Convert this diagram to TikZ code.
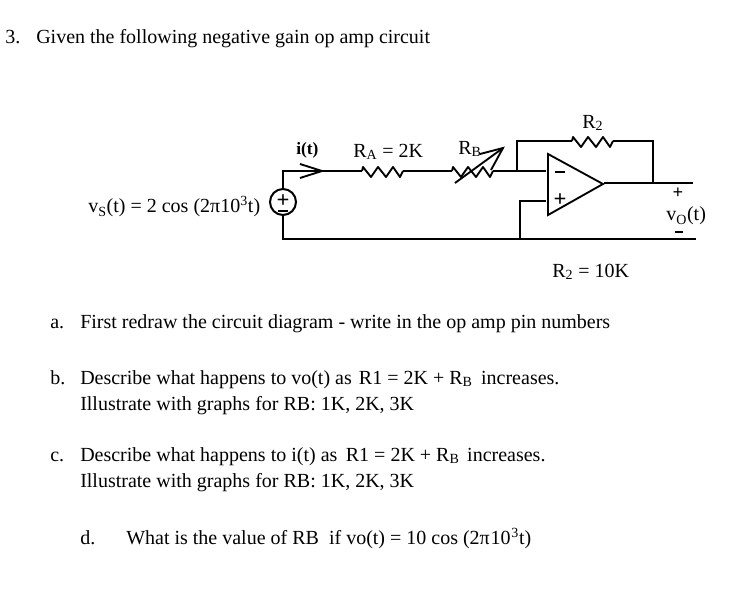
\documentclass[tikz,border=0pt]{standalone}
\usepackage{fontspec}
\setmainfont{Liberation Serif}
\usetikzlibrary{shapes.geometric}
\tikzset{
 wire/.style={line width=1.4pt,line join=miter},
 txt/.style={anchor=base west,inner sep=0pt,font=\fontsize{15}{17}\selectfont},
 sign/.style={anchor=center,inner sep=0pt,font=\fontsize{17}{18}\selectfont\bfseries},
 res/.pic={\draw[wire,line join=round] (0,0)--(1,-4)--(9,6)--(16,-4)--(24,6)--(31,-4)--(38,6)--(41,0);}
}
\begin{document}
\begin{tikzpicture}[x=.75pt,y=-.75pt]
\useasboundingbox (0,0) rectangle (748,603);
% text
\node[txt] (q3) at (5,43) {3.};
\node[txt] (q3t) at (36,43) {Given the following negative gain op amp circuit};
\node[txt] (vs) at (88,212) {v\textsubscript{\raisebox{-.2ex}{S}}(t) = 2 cos (2π10\textsuperscript{3}t)};
\node[txt] (it) at (296,154) {\fontsize{13}{14}\selectfont\bfseries i(t)};
\node[txt] (ra) at (353,157) {R\textsubscript{A} = 2K};
\node[txt] (rb) at (458,154) {R\textsubscript{B}};
\node[txt] (r2) at (582,128) {R\textsubscript{2}};
\node[txt] (r2v) at (552,277) {R\textsubscript{2} = 10K};
\node[txt] (vo) at (666,220) {v\textsubscript{\raisebox{-.2ex}{O}}(t)};
\node[txt] (a) at (50,328) {a.};
\node[txt] (at) at (80,328) {First redraw the circuit diagram - write in the op amp pin numbers};
\node[txt] (b) at (50,384) {b.};
\node[txt] (bt) at (80,384) {Describe what happens to vo(t) as\ \kern1.6pt R1 = 2K + R\textsubscript{B}\ \kern2.6pt increases.};
\node[txt] (bt2) at (80,410) {Illustrate with graphs for RB: 1K, 2K, 3K};
\node[txt] (c) at (50,461) {c.};
\node[txt] (ct) at (80,461) {Describe what happens to i(t) as\ \kern2.6pt R1 = 2K + R\textsubscript{B}\ \kern2pt increases.};
\node[txt] (ct2) at (80,487) {Illustrate with graphs for RB: 1K, 2K, 3K};
\node[txt] (d) at (80,544) {d.};
\node[txt] (dt) at (126,544) {What is the value of RB\ \ if vo(t) = 10 cos (2π\kern.6pt 10\kern.6pt\textsuperscript{3}t)};
% coordinates
\node[circle,draw,line width=1.5pt,minimum size=26pt*.75,inner sep=0pt] (src) at (283,202) {};
\node[sign] (sp) at (283,201) {+};
\draw[line width=1.5pt] (278,211)--(288,211);
\coordinate (tl) at (283,171);
\coordinate (bl) at (283,239);
\coordinate (ra1) at (362,171); \coordinate (ra2) at (403,171);
\coordinate (rb1) at (452,171); \coordinate (rb2) at (493,171);
\coordinate (r21) at (572,141); \coordinate (r22) at (613,141);
\coordinate (ninv) at (546,171); \coordinate (pinv) at (546,201);
\coordinate (fb) at (517,171); \coordinate (fbt) at (517,141);
\coordinate (fr) at (653,141); \coordinate (fro) at (653,183);
\coordinate (out) at (604,183); \coordinate (oute) at (693,183);
\coordinate (pd) at (520,239); \coordinate (be) at (696,239);
\coordinate (pc) at (520,201);
% wires
\draw[wire] (src) -- (tl) -- (ra1);
\draw[wire] (ra2) -- (rb1);
\draw[wire] (rb2) -- (ninv);
\draw[wire] (src) -- (bl) -- (be);
\draw[wire] (fb) -- (fbt) -- (r21);
\draw[wire] (r22) -- (fr) -- (fro);
\draw[wire] (out) -- (oute);
\draw[wire] (pinv) -- (pc) -- (pd);
\pic at (ra1) {res};
\pic at (rb1) {res};
\pic at (r21) {res};
% op amp
\draw[wire] (548,154) coordinate (t1) -- (603,184) coordinate (t2) -- (548,215) coordinate (t3) -- cycle;
\draw[line width=1.6pt] (555,172)--(565,172);
\node[sign] (pl) at (560,200) {+};
% current arrow
\coordinate (ia) at (322,171);
\draw[wire] (300,164) -- (ia) -- (300,178);
% variable arrow
\coordinate (va) at (455,183); \coordinate (vb) at (503,148);
\draw[wire] (va) -- (vb);
\draw[wire] (480,154) -- (vb) -- (491,170);
% output signs
\node[sign] (op) at (678,193) {\fontsize{14}{14}\selectfont +};
\draw[line width=1.6pt] (675,232)--(683,232);
\end{tikzpicture}
\end{document}
